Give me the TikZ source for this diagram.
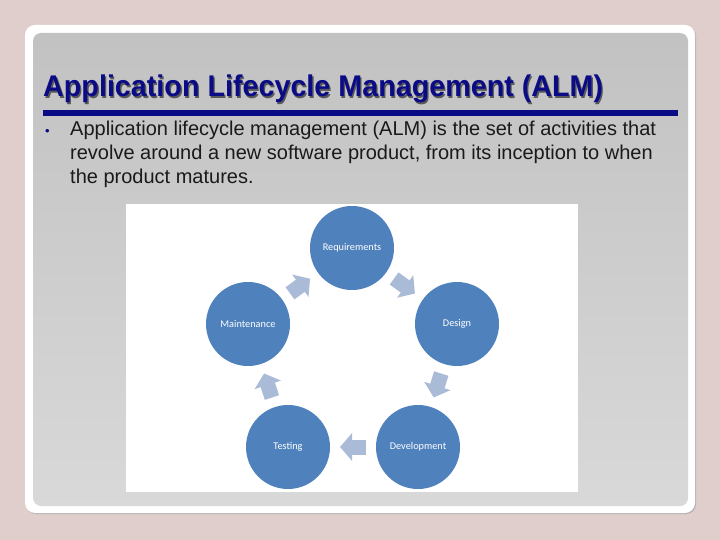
\documentclass[tikz,border=0pt]{standalone}
\usepackage{fontspec}
\setmainfont{Liberation Sans}
\newfontfamily\circfont{Carlito}
\usetikzlibrary{arrows.meta,calc}
\definecolor{pagebg}{HTML}{DFCECC}
\definecolor{navy}{HTML}{0B0B86}
\definecolor{circblue}{HTML}{4F81BD}
\definecolor{arrowblue}{HTML}{AABBD8}
\definecolor{bodytext}{HTML}{1A1A1A}
\tikzset{
  stage/.style={circle,fill=circblue,minimum size=84pt,inner sep=0pt,text=white,font=\circfont\fontsize{10.3}{12}\selectfont},
  cyclearrow/.style={draw=arrowblue,line width=15pt,shorten <=52pt,shorten >=52pt,-{Triangle[length=12pt,width=27pt]}},
  bodyline/.style={anchor=base west,inner sep=0pt,text=bodytext,font=\fontsize{20}{24}\selectfont},
  titletext/.style={anchor=base west,inner sep=0pt,font=\bfseries\fontsize{30}{34}\selectfont}
}
\begin{document}
\begin{tikzpicture}[x=1pt,y=-1pt]
\useasboundingbox (0,0) rectangle (720,540);
\fill[pagebg] (0,0) rectangle (720,540);
% frame
\fill[gray!60,rounded corners=10pt] (26,26) rectangle (696,514);
\fill[white,rounded corners=10pt] (25,25) rectangle (695,513);
\shade[top color=black!24,bottom color=black!15,rounded corners=8pt] (33,33) rectangle (688,506);
% title
\node[titletext,text=black!65] at (44.3,98.3) {\resizebox{560pt}{!}{\scalebox{0.96}[1]{Application Lifecycle Management (ALM)}}};
\node (title) [titletext,text=navy] at (43,97) {\resizebox{560pt}{!}{\scalebox{0.96}[1]{Application Lifecycle Management (ALM)}}};
\fill[navy] (43,110) rectangle (678,116);
% bullet text
\node (bullet) [anchor=base west,inner sep=0pt,text=navy,font=\fontsize{13}{14}\selectfont] at (45,136) {•};
\node (l1) [bodyline] at (70,136) {Application lifecycle management (ALM) is the set of activities that};
\node (l2) [bodyline] at (70,160) {revolve around a new software product, from its inception to when};
\node (l3) [bodyline] at (70,184) {the product matures.};
% picture
\fill[white] (126,204) rectangle (578,492);
\node (req) [stage] at (352,248) {Requirements};
\node (des) [stage] at (457,324) {Design};
\node (dev) [stage] at (418,447) {Development};
\node (tst) [stage] at (288,447) {Testing};
\node (mnt) [stage] at (248,324) {Maintenance};
\draw[cyclearrow] (req.center) -- (des.center);
\draw[cyclearrow] (des.center) -- (dev.center);
\draw[cyclearrow] (dev.center) -- (tst.center);
\draw[cyclearrow] (tst.center) -- (mnt.center);
\draw[cyclearrow] (mnt.center) -- (req.center);
\end{tikzpicture}
\end{document}
